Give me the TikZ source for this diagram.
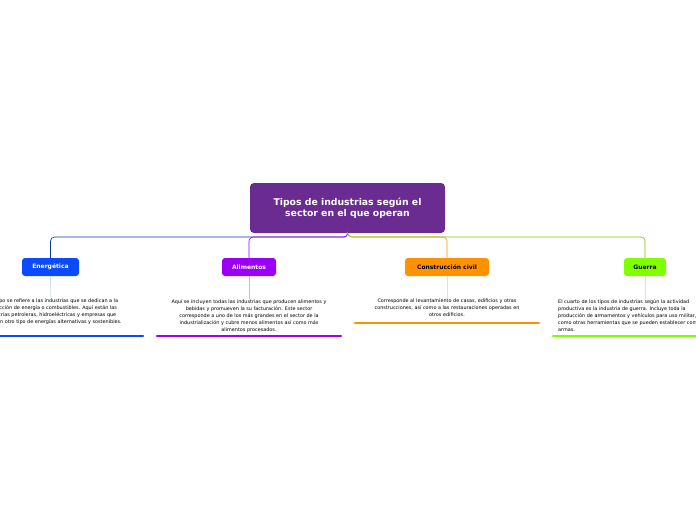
\documentclass[tikz,border=0pt]{standalone}
\usepackage{fontspec}
\setmainfont{DejaVu Sans}
\begin{document}
\begin{tikzpicture}[x=1pt,y=-1pt,
 central/.style={fill=cc,rounded corners=4pt,minimum width=195pt,minimum height=50pt,text=white,font=\fontsize{9.3}{11}\selectfont\bfseries,align=center},
 topic/.style={rounded corners=3pt,minimum height=18pt,inner xsep=6pt,font=\fontsize{6}{7}\selectfont\bfseries},
 desc/.style={font=\fontsize{4.9}{7}\selectfont,align=center,inner sep=0pt},
 link/.style={line width=0.6pt,rounded corners=4pt},
 uline/.style={line width=2.2pt,line cap=round}]
\definecolor{cc}{HTML}{6A2C91}
\definecolor{cb}{HTML}{0A4BFF}
\definecolor{cp}{HTML}{9B00F5}
\definecolor{co}{HTML}{FF9200}
\definecolor{cg}{HTML}{7FFF00}
\useasboundingbox (0,0) rectangle (696,520);
\clip (0,0) rectangle (696,520);
\node[central] (c) at (347.5,208) {Tipos de industrias según el\\sector en el que operan};
\node[topic,fill=cb,text=white,minimum width=57pt] (e) at (50.5,267) {Energética};
\node[topic,fill=cp,text=white,minimum width=54pt] (a) at (249,267) {Alimentos};
\node[topic,fill=co,text=black,minimum width=84pt] (k) at (447,267) {Construcción civil};
\node[topic,fill=cg,text=black,minimum width=42pt] (g) at (645,267) {Guerra};
\coordinate (h) at (348,237);
\draw[link,cb!70!black] (c.south) -- (h) -| (e.north);
\draw[link,cp] (c.south) -- (h) -| (a.north);
\draw[link,co] (c.south) -- (h) -| (k.north);
\draw[link,cg!80!black] (c.south) -- (h) -| (g.north);
\node[desc,anchor=north] (et) at (51,299) {Este tipo se refiere a las industrias que se dedican a la\\producción de energía o combustibles. Aquí están las\\industrias petroleras, hidroeléctricas y empresas que\\producen otro tipo de energías alternativas y sostenibles.};
\node[desc,anchor=north] (at) at (249,299) {Aquí se incluyen todas las industrias que producen alimentos y\\bebidas y promueven la su facturación. Este sector\\corresponde a uno de los más grandes en el sector de la\\industrialización y cubre menos alimentos así como más\\alimentos procesados.};
\node[desc,anchor=north] (kt) at (447,299) {Corresponde al levantamiento de casas, edificios y otras\\construcciones, así como a las restauraciones operadas en\\otros edificios.};
\node[desc,anchor=north west,align=left] (gt) at (558,299) {El cuarto de los tipos de industrias según la actividad\\productiva es la industria de guerra. Incluye toda la\\producción de armamentos y vehículos para uso militar, así\\como otras herramientas que se pueden establecer como\\armas.};
\draw[cb!35] (e.south) -- (et.north);
\draw[cp!35] (a.south) -- (at.north);
\draw[co!35] (k.south) -- (kt.north);
\draw[cg!45] (g.south) -- (g.south |- gt.north);
\draw[uline,cb] (-40,336) -- (143,336);
\draw[uline,cp] (157,336) -- (341,336);
\draw[uline,co] (355,323) -- (539,323);
\draw[uline,cg] (553,336) -- (737,336);
\end{tikzpicture}
\end{document}
